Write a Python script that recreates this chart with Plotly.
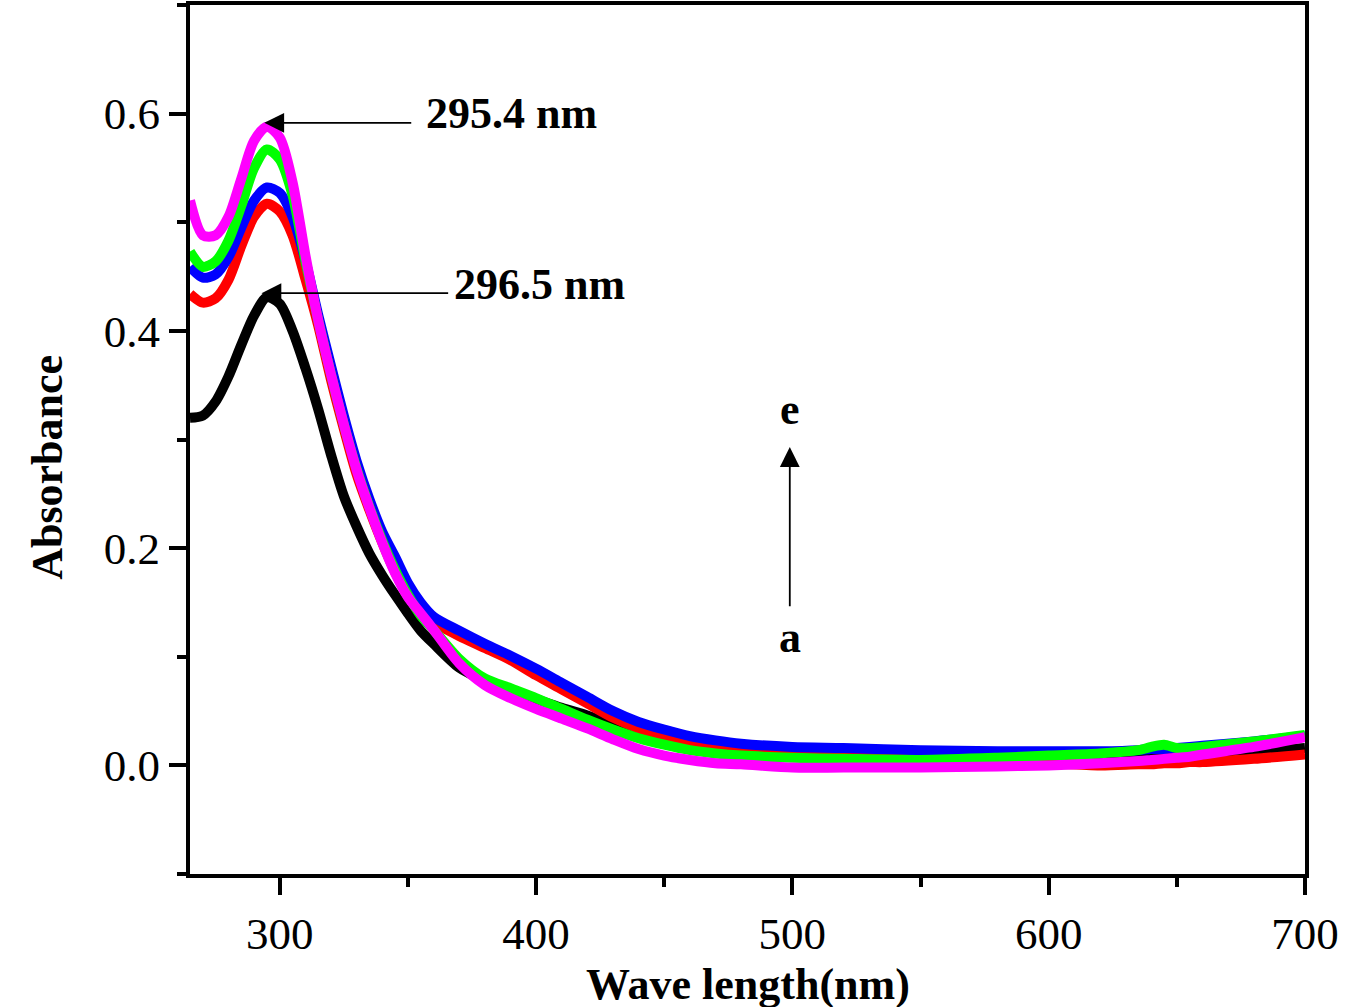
import plotly.graph_objects as go

# Wavelength grid (nm)
wavelength = [265, 270, 275, 280, 285, 290, 295, 300, 305, 310, 315, 320, 325, 330, 335,
              340, 345, 350, 355, 360, 370, 380, 390, 400, 410, 420, 430, 440, 450, 460,
              470, 480, 500, 520, 550, 580, 600, 620, 635, 640, 645, 650, 655, 660, 680, 700]

abs_a = [0.320, 0.322, 0.335, 0.358, 0.387, 0.414, 0.431, 0.425, 0.400, 0.366, 0.328, 0.286,
         0.248, 0.220, 0.195, 0.175, 0.157, 0.140, 0.124, 0.112, 0.090, 0.078, 0.069, 0.061,
         0.053, 0.046, 0.038, 0.031, 0.026, 0.022, 0.019, 0.017, 0.015, 0.014, 0.013, 0.012,
         0.011, 0.010, 0.010, 0.010, 0.010, 0.010, 0.011, 0.011, 0.013, 0.016]

abs_b = [0.434, 0.426, 0.430, 0.447, 0.478, 0.505, 0.517, 0.510, 0.488, 0.448, 0.405, 0.355,
         0.310, 0.268, 0.235, 0.205, 0.178, 0.157, 0.142, 0.132, 0.119, 0.108, 0.097, 0.083,
         0.070, 0.057, 0.044, 0.034, 0.027, 0.022, 0.018, 0.015, 0.012, 0.010, 0.007, 0.004,
         0.002, 0.000, 0.001, 0.001, 0.002, 0.002, 0.003, 0.003, 0.006, 0.010]

abs_c = [0.459, 0.449, 0.452, 0.468, 0.495, 0.520, 0.532, 0.527, 0.505, 0.465, 0.415, 0.368,
         0.322, 0.280, 0.245, 0.215, 0.192, 0.168, 0.150, 0.137, 0.124, 0.112, 0.101, 0.089,
         0.076, 0.063, 0.050, 0.040, 0.033, 0.027, 0.023, 0.020, 0.017, 0.016, 0.014, 0.013,
         0.013, 0.013, 0.014, 0.015, 0.015, 0.016, 0.017, 0.018, 0.022, 0.027]

abs_d = [0.473, 0.459, 0.464, 0.483, 0.515, 0.550, 0.567, 0.558, 0.525, 0.465, 0.410, 0.360,
         0.314, 0.273, 0.238, 0.207, 0.180, 0.157, 0.138, 0.125, 0.098, 0.080, 0.071, 0.062,
         0.052, 0.042, 0.033, 0.025, 0.019, 0.014, 0.011, 0.009, 0.007, 0.006, 0.005, 0.007,
         0.009, 0.011, 0.014, 0.017, 0.019, 0.016, 0.016, 0.017, 0.022, 0.028]

abs_e = [0.520, 0.488, 0.488, 0.505, 0.540, 0.575, 0.588, 0.578, 0.537, 0.470, 0.410, 0.360,
         0.314, 0.272, 0.237, 0.205, 0.177, 0.155, 0.140, 0.125, 0.094, 0.074, 0.062, 0.052,
         0.043, 0.034, 0.024, 0.015, 0.009, 0.005, 0.002, 0.001, -0.002, -0.002, -0.002, -0.001,
         0.000, 0.002, 0.004, 0.005, 0.006, 0.007, 0.008, 0.010, 0.017, 0.026]

series_names = ["a", "b", "c", "d", "e"]
series_values = [abs_a, abs_b, abs_c, abs_d, abs_e]
series_colors = ["#000000", "#ff0000", "#0000ff", "#00ff00", "#ff00ff"]

x_ticks = [300, 400, 500, 600, 700]
y_ticks = [0.0, 0.2, 0.4, 0.6]
y_tick_labels = ["0.0", "0.2", "0.4", "0.6"]

FONT = "Liberation Serif, Times New Roman, serif"

fig = go.Figure()
for name, vals, col in zip(series_names, series_values, series_colors):
    fig.add_trace(go.Scatter(x=wavelength, y=vals, mode="lines", name=name,
                             line=dict(color=col, width=10, shape="spline", smoothing=0.8),
                             showlegend=False))

axis_common = dict(showgrid=False, zeroline=False, showline=True, linecolor="black",
                   linewidth=4, mirror=True, ticks="outside", ticklen=17, tickwidth=3.5,
                   tickcolor="black", tickfont=dict(family=FONT, size=45, color="black"))

fig.update_xaxes(range=[265, 700], tickvals=x_ticks,
                 minor=dict(dtick=50, tick0=0, ticklen=9, tickwidth=3.5, tickcolor="black",
                            ticks="outside"),
                 **axis_common)
fig.update_yaxes(range=[-0.1, 0.7], tickvals=y_ticks, ticktext=y_tick_labels,
                 minor=dict(dtick=0.1, tick0=-0.1, ticklen=9, tickwidth=3.5, tickcolor="black",
                            ticks="outside"),
                 **axis_common)

annotations = [
    # axis titles
    dict(text="<b>Absorbance</b>", xref="paper", yref="paper", x=-0.1274, y=0.4685,
         textangle=-90, showarrow=False, xanchor="center", yanchor="middle",
         font=dict(family=FONT, size=44, color="black")),
    dict(text="<b>Wave length(nm)</b>", xref="paper", yref="paper", x=0.5, y=0,
         yshift=-84, showarrow=False, xanchor="center", yanchor="top",
         font=dict(family=FONT, size=44, color="black")),
    # peak labels
    dict(text="<b>295.4 nm</b>", x=390.5, y=0.600, xref="x", yref="y", showarrow=False,
         xanchor="center", yanchor="middle", font=dict(family=FONT, size=44, color="black")),
    dict(text="<b>296.5 nm</b>", x=401.5, y=0.4425, xref="x", yref="y", showarrow=False,
         xanchor="center", yanchor="middle", font=dict(family=FONT, size=44, color="black")),
    dict(text="<b>e</b>", x=499, y=0.328, xref="x", yref="y", showarrow=False,
         xanchor="center", yanchor="middle", font=dict(family=FONT, size=44, color="black")),
    dict(text="<b>a</b>", x=499, y=0.118, xref="x", yref="y", showarrow=False,
         xanchor="center", yanchor="middle", font=dict(family=FONT, size=44, color="black")),
    # arrows
    dict(text="", x=294, y=0.5915, ax=351.9, ay=0.5915, xref="x", yref="y",
         axref="x", ayref="y", showarrow=True, arrowhead=2, arrowsize=2.2,
         arrowwidth=1.8, arrowcolor="black"),
    dict(text="", x=292.9, y=0.4347, ax=366.3, ay=0.4347, xref="x", yref="y",
         axref="x", ayref="y", showarrow=True, arrowhead=2, arrowsize=2.2,
         arrowwidth=1.8, arrowcolor="black"),
    dict(text="", x=499, y=0.293, ax=499, ay=0.145, xref="x", yref="y",
         axref="x", ayref="y", showarrow=True, arrowhead=2, arrowsize=2.2,
         arrowwidth=1.8, arrowcolor="black"),
]

fig.update_layout(width=1346, height=1007, margin=dict(l=190, r=41, t=1, b=133),
                  paper_bgcolor="white", plot_bgcolor="white",
                  annotations=annotations, showlegend=False)

fig.write_html("out.html")
